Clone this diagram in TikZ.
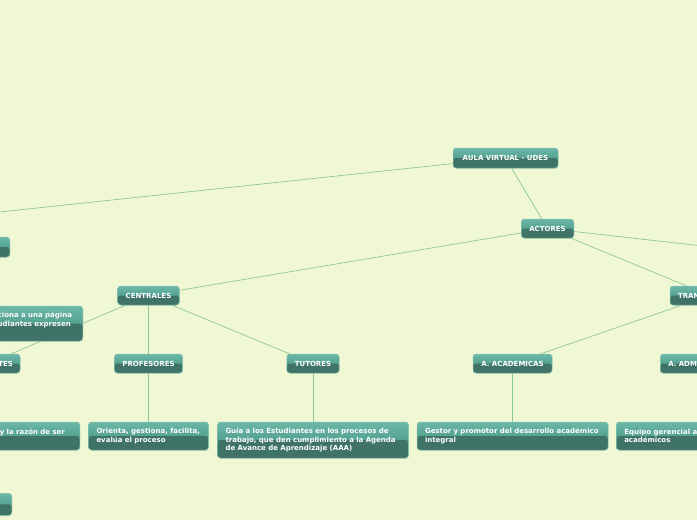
\documentclass[tikz,border=0pt]{standalone}
\usepackage{fontspec}
\setmainfont{DejaVu Sans}
\usetikzlibrary{shadows}
\definecolor{fondo}{HTML}{F0F8D3}
\definecolor{ramal}{HTML}{8CC992}
\definecolor{tapa}{HTML}{6CB8A8}
\definecolor{medio}{HTML}{3E8C7C}
\definecolor{base}{HTML}{3F7366}
\definecolor{borde}{HTML}{86C2B3}

\begin{document}
\begin{tikzpicture}[x=1pt,y=-1pt,
    tema/.style={draw=borde, line width=0.5pt, rounded corners=3pt,
      top color=tapa, bottom color=medio,
      path picture={\fill[base] (path picture bounding box.west) rectangle (path picture bounding box.south east);},
      text=white, font=\bfseries\fontsize{7}{8.5}\selectfont,
      inner xsep=8pt, inner ysep=0pt, minimum height=19pt,
      drop shadow={opacity=0.12, shadow xshift=0.6pt, shadow yshift=-0.8pt}},
    nota/.style={tema, align=left},
    rama/.style={draw=ramal, line width=0.7pt}]
            \useasboundingbox (0,0) rectangle (697,520);
            \clip (0,0) rectangle (697,520);
            \fill[fondo] (0,0) rectangle (697,520);
            % ramas principales
            \node[tema, minimum width=105pt, minimum height=20pt] (aula) at (505.5,158) {AULA VIRTUAL - UDES};
            \node[tema, minimum width=51pt] (actores) at (547.5,228.5) {ACTORES};
            \node[tema, minimum width=61pt] (centrales) at (148.5,295.5) {CENTRALES};
            \node[tema, text width=64pt, align=left] (trans) at (710,295.5) {TRAN};
            \node[tema, text width=49pt, inner xsep=7pt, align=right] (estudiantes) at (-11.5,363.5) {TES};
            \node[tema, minimum width=68pt] (profesores) at (148.5,363.5) {PROFESORES};
            \node[tema, minimum width=52pt] (tutores) at (313,363.5) {TUTORES};
            \node[tema, minimum width=79pt] (academicas) at (512.5,363.5) {A. ACADEMICAS};
            \node[tema, text width=100pt, align=left, anchor=west] (administrativas) at (660,363.5) {A. ADM};
            \node[tema, minimum width=80pt, minimum height=20pt, anchor=east] (enlace) at (10,247) {};
            \node[tema, minimum width=80pt, minimum height=22pt, anchor=north east] (recurso) at (12,493) {};
            % notas
            \node[nota, text width=104pt, minimum height=28pt] (orienta) at (148.5,436) {Orienta, gestiona, facilita,\\evalúa el proceso};
            \node[nota, text width=175pt, minimum height=36pt] (guia) at (313,440) {Guía a los Estudiantes en los procesos de\\trabajo, que den cumplimiento a la Agenda\\de Avance de Aprendizaje (AAA)};
            \node[nota, text width=175pt, minimum height=28pt] (gestor) at (512.5,436) {Gestor y promotor del desarrollo académico\\integral};
            \node[nota, text width=150pt, minimum height=28pt, anchor=west] (equipo) at (616,436) {Equipo gerencial a\\académicos};
            \node[nota, text width=72pt, minimum height=28pt, anchor=east] (razon) at (80,436) {y la razón de ser\\~};
            \coordinate (izq) at (-300,244);
            \coordinate (der) at (900,268.3);
            % conexiones
            \draw[rama] (aula) -- (izq);
            \draw[rama] (aula) -- (actores);
            \draw[rama] (actores) -- (centrales);
            \draw[rama] (actores) -- (der);
            \draw[rama] (actores) -- (trans);
            \draw[rama] (trans) -- (academicas);
            \draw[rama] (centrales) -- (estudiantes);
            \draw[rama] (centrales) -- (profesores);
            \draw[rama] (centrales) -- (tutores);
            \draw[rama] (profesores) -- (orienta);
            \draw[rama] (tutores) -- (guia);
            \draw[rama] (academicas) -- (gestor);
            \node[nota, text width=77pt, minimum height=35pt, anchor=east] (pagina) at (83,323.5) {ciona a una página\\udiantes expresen\\~};
        \end{tikzpicture}
\end{document}
